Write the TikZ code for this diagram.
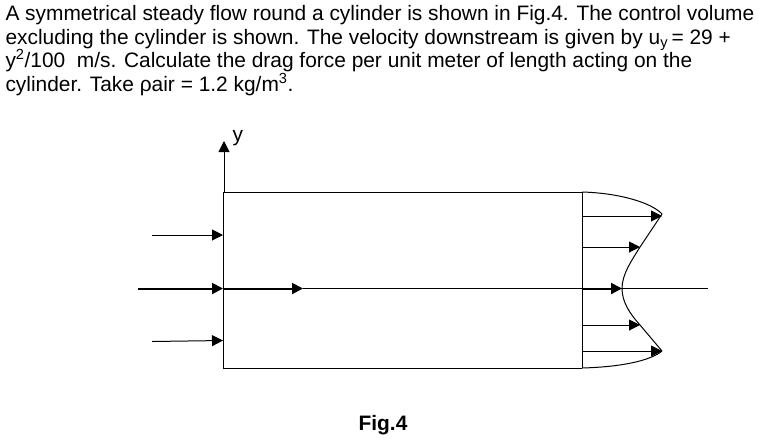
\documentclass[tikz,border=0pt]{standalone}
\usepackage{fontspec}
\setmainfont{Liberation Sans}
\usetikzlibrary{arrows.meta}
\tikzset{
    flow/.style={-{Triangle[length=11pt,width=11pt]}},
    thickflow/.style={flow, line width=2pt},
    textline/.style={anchor=base west, inner sep=0pt, font=\fontsize{20.9pt}{24pt}\selectfont},
    figlabel/.style={inner sep=0pt, font=\fontsize{20.9pt}{24pt}\selectfont\bfseries}
}

\begin{document}
\begin{tikzpicture}[x=1pt, y=-1pt, line width=1pt]
	\useasboundingbox (0,0) rectangle (759,440);
	\node (line1) [textline] at (5,20) {A symmetrical steady flow round a cylinder is shown in Fig.4. The control volume};
	\node (line2) [textline] at (5,44) {excluding the cylinder is shown. The velocity downstream is given by u\textsubscript{y}\,= 29 +};
	\node (line3) [textline] at (5,67) {y\textsuperscript{2}/100\ \ m/s. Calculate the drag force per unit meter of length acting on the};
	\node (line4) [textline] at (5,91) {cylinder. Take ρair = 1.2 kg/m\textsuperscript{3}.};
	\node (ylabel) [textline] at (232,141) {y};
	\node (figname) [figlabel] at (383,425) {Fig.4};
	
	\coordinate (tl) at (223,192);
	\coordinate (tr) at (582,192);
	\coordinate (br) at (582,368);
	\coordinate (bl) at (223,368);
	\coordinate (ytop) at (224,141);
	\coordinate (ybase) at (224,192);
	
	\coordinate (in1s) at (152,235);
	\coordinate (in1e) at (223,235);
	\coordinate (in2s) at (138,288.5);
	\coordinate (in2e) at (223,288.5);
	\coordinate (in3s) at (152,341.5);
	\coordinate (in3e) at (223,340.5);
	\coordinate (mid) at (303,288.5);
	\coordinate (axis) at (708,288.5);
	
	\coordinate (out1s) at (582,216);
	\coordinate (out1e) at (662,216);
	\coordinate (out2s) at (582,247);
	\coordinate (out2e) at (640,247);
	\coordinate (out3s) at (582,288.5);
	\coordinate (out3e) at (622,288.5);
	\coordinate (out4s) at (582,325);
	\coordinate (out4e) at (640,325);
	\coordinate (out5s) at (582,351);
	\coordinate (out5e) at (662,351);
	
	\draw (tl) edge (tr); \draw (tr) edge (br);
	\draw (br) edge (bl); \draw (bl) edge (tl);
	\draw (ybase) edge [flow] (ytop);
	
	\draw (in1s) edge [flow] (in1e);
	\draw (in2s) edge [thickflow] (in2e);
	\draw (in3s) edge [flow] (in3e);
	\draw (in2e) edge [thickflow] (mid);
	\draw (mid) edge (axis);
	
	\draw (out1s) edge [flow] (out1e);
	\draw (out2s) edge [flow] (out2e);
	\draw (out3s) edge [thickflow] (out3e);
	\draw (out4s) edge [flow] (out4e);
	\draw (out5s) edge [flow] (out5e);
	
	\draw (tr) .. controls (620,193) and (652,203) .. (662,214);
	\draw (662,214) -- (out2e) .. controls (632,260) and (622,274) .. (out3e);
	\draw (out3e) .. controls (622,302) and (630,314) .. (out4e) -- (662,351);
	\draw (662,351) .. controls (650,361) and (620,367) .. (br);
\end{tikzpicture}
\end{document}
